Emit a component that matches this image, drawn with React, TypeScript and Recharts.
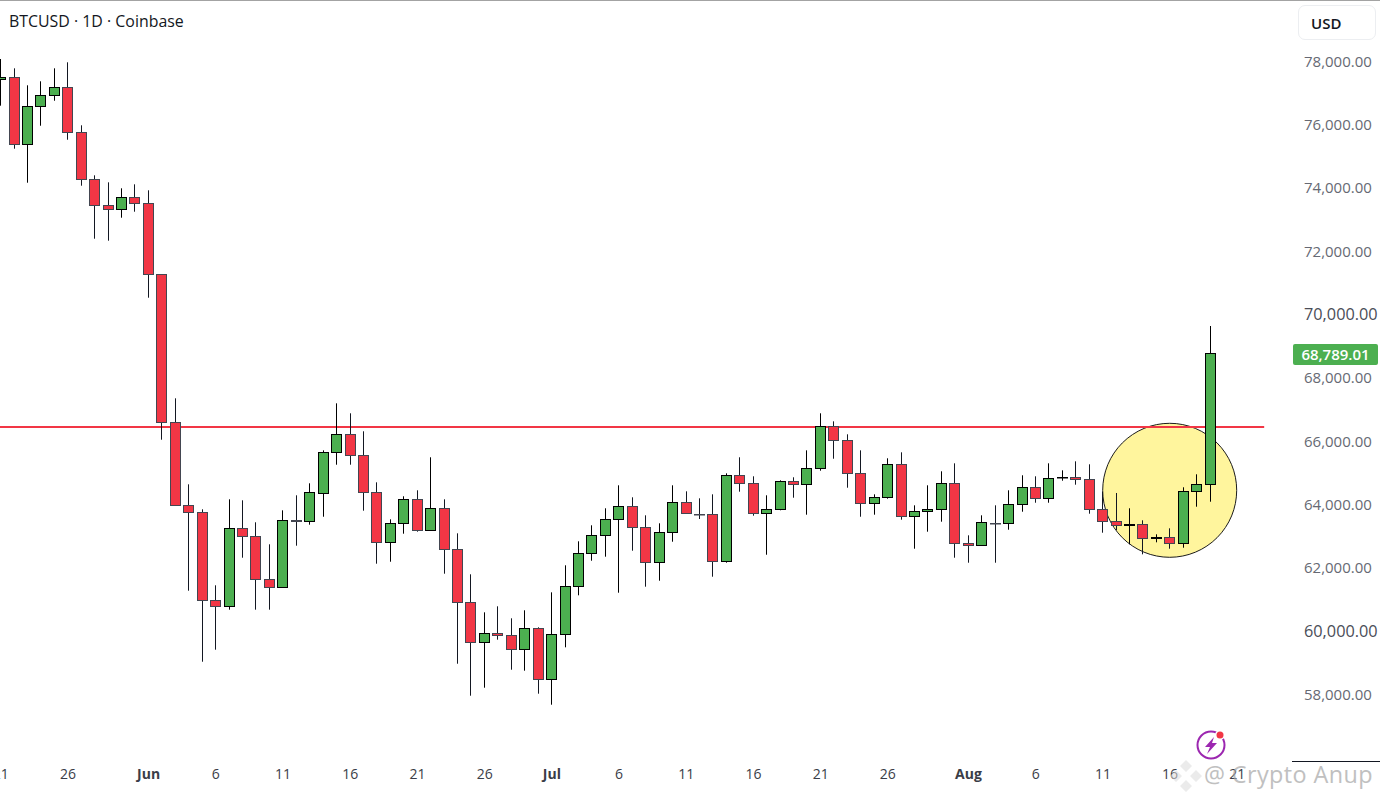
import { ComposedChart, Bar, XAxis, YAxis, ReferenceLine, ReferenceDot } from "recharts"

const opens = [
  77438, 77501, 75386, 76586, 76933, 77186, 75765, 74281, 73460, 73334, 73713, 73523, 71282,
  66609, 63989, 63768, 60990, 60801, 63263, 63011, 61653, 61401, 63516, 63484, 64368, 65662,
  66231, 65568, 64400, 62820, 63421, 64179, 63200, 63895, 62600, 60927, 59664, 59948, 59885,
  59443, 60107, 58496, 59917, 61432, 62474, 63042, 63547, 63958, 63295, 62190, 63137, 64084,
  63715, 63705, 62221, 64937, 64684, 63737, 63863, 64747, 64652, 65157, 66483, 66041, 64999,
  64053, 64242, 65284, 63642, 63800, 63863, 64684, 62790, 62726, 63431, 63421, 64021, 64558,
  64210, 64870, 64873, 64810, 63863, 63484, 63380, 63389, 62960, 62979, 62790, 64431, 64652,
]
const closes = [
  77501, 75386, 76586, 76933, 77186, 75765, 74281, 73460, 73334, 73713, 73523, 71282, 66609,
  63989, 63768, 60990, 60801, 63263, 63011, 61653, 61401, 63516, 63506, 64400, 65662, 66231,
  65568, 64400, 62820, 63421, 64179, 63200, 63895, 62600, 60927, 59664, 59948, 59885, 59443,
  60107, 58496, 59917, 61432, 62474, 63042, 63547, 63958, 63295, 62190, 63137, 64084, 63737,
  63705, 62221, 64937, 64684, 63737, 63863, 64747, 64652, 65157, 66483, 66041, 64999, 64053,
  64242, 65284, 63642, 63800, 63863, 64684, 62790, 62726, 63453, 63421, 64021, 64558, 64210,
  64842, 64873, 64810, 63863, 63484, 63358, 63389, 62947, 62973, 62790, 64431, 64652, 68789,
]
const highs = [
  78079, 77785, 77249, 77375, 77785, 77975, 75986, 74407, 74186, 73997, 74123, 73934, 71282,
  67367, 64652, 63863, 61464, 64179, 64147, 63453, 62758, 63831, 64305, 64684, 65725, 67209,
  66894, 66326, 64715, 63547, 64274, 64463, 65505, 64179, 63105, 61811, 60611, 60801, 60422,
  60675, 60138, 61242, 62095, 62853, 63358, 63895, 64621, 64242, 63673, 63421, 64621, 64431,
  64210, 64336, 64999, 65505, 64905, 64305, 64778, 64874, 65725, 66894, 66641, 66231, 65725,
  64336, 65473, 65662, 63989, 64621, 65063, 65315, 63042, 63673, 63989, 64463, 64937, 64905,
  65315, 65094, 65378, 65284, 64419, 64378, 63895, 63516, 63074, 63263, 64558, 64968, 69650,
]
const lows = [
  76605, 75247, 74174, 75973, 76762, 75531, 74079, 72406, 72343, 73069, 73258, 70543, 66060,
  63989, 61293, 59051, 59431, 60694, 62335, 60694, 60694, 61401, 62714, 63377, 63629, 65271,
  65271, 63819, 62146, 62208, 63093, 63156, 63200, 61830, 58988, 57978, 58231, 59747, 58799,
  58768, 58042, 57694, 59506, 61148, 62240, 62367, 61230, 62556, 61420, 61609, 62840, 63737,
  63557, 61735, 62177, 64419, 63661, 62429, 63832, 64229, 63693, 65082, 65460, 64545, 63629,
  63693, 64198, 63535, 62619, 63156, 63472, 62335, 62177, 62726, 62177, 63219, 63787, 64071,
  64071, 64766, 64640, 63724, 63124, 63210, 62758, 62442, 62821, 62619, 62650, 63945, 64103,
]

const dayTicks = [0, 5, 11, 16, 21, 26, 31, 36, 41, 46, 51, 56, 61, 66, 72, 77, 82, 87, 92]
const dayLabels = ["21", "26", "Jun", "6", "11", "16", "21", "26", "Jul", "6", "11", "16", "21", "26", "Aug", "6", "11", "16", "21"]
const priceTicks = [58000, 60000, 62000, 64000, 66000, 68000, 70000, 72000, 74000, 76000, 78000]
const resistance = 66460
const lastPrice = "68,789.01"

const candles = opens.map((open, i) => ({
  index: i,
  open,
  close: closes[i],
  high: highs[i],
  low: lows[i],
  range: [lows[i], highs[i]],
}))

function Candle(props: any) {
  const { x, y, width, height, payload } = props
  const top = Math.min(y, y + height)
  const span = Math.abs(height)
  const scale = span / (payload.high - payload.low)
  const toY = (p: number) => top + (payload.high - p) * scale
  const up = payload.close >= payload.open
  const cx = Math.round(x + width / 2) - 0.5
  const y1 = Math.round(toY(Math.max(payload.open, payload.close))) + 0.5
  const y2 = Math.round(toY(Math.min(payload.open, payload.close))) + 0.5
  const edge = up ? "#000000" : "#434651"
  return (
    <g>
      <line x1={cx} x2={cx} y1={top} y2={top + span} stroke={up ? "#000000" : "#131722"} strokeWidth={1} />
      <rect x={cx - 5} y={y1} width={10} height={Math.max(y2 - y1, 0.5)} fill={up ? "#4caf50" : "#f23645"} stroke={edge} strokeWidth={1} />
    </g>
  )
}

function PriceTick(props: any) {
  const { x, y, payload } = props
  const big = payload.value === 70000 || payload.value === 60000
  return (
    <text x={x} y={y + 5} fontSize={big ? 16.3 : 15} fill={big ? "#4a4d57" : "#666973"} fontFamily="'Open Sans', sans-serif">
      {payload.value.toLocaleString("en-US", { minimumFractionDigits: 2 })}
    </text>
  )
}

function DayTick(props: any) {
  const { x, y, payload } = props
  const label = dayLabels[dayTicks.indexOf(payload.value)]
  const month = isNaN(Number(label))
  return (
    <text x={x} y={y + 10} textAnchor="middle" fontSize={14} fontWeight={month ? 700 : 400} fill="#3a3d47" fontFamily="'Open Sans', sans-serif">
      {label}
    </text>
  )
}

export default function App() {
  return (
    <div style={{ position: "absolute", left: 0, top: 0, width: 1380, height: 799, overflow: "hidden", background: "#fff", fontFamily: "'Open Sans', sans-serif" }}>
      <ComposedChart width={1380} height={799} data={candles} margin={{ top: 0, right: 0, bottom: 0, left: 0 }}>
        <XAxis
          type="number"
          dataKey="index"
          domain={[-0.06, 96.07]}
          ticks={dayTicks}
          interval={0}
          axisLine={false}
          tickLine={false}
          height={38}
          tick={<DayTick />}
        />
        <YAxis
          orientation="right"
          width={88}
          domain={[55917, 79942]}
          ticks={priceTicks}
          interval={0}
          axisLine={false}
          tickLine={false}
          tickMargin={6}
          tick={<PriceTick />}
        />
        <ReferenceDot x={86.97} y={64463} r={67} fill="#fff59d" stroke="#1c1c1c" strokeWidth={1} zIndex={10} />
        <ReferenceLine
          segment={[{ x: -0.06, y: resistance }, { x: 94, y: resistance }]}
          stroke="#f23645"
          strokeWidth={2}
          zIndex={20}
        />
        <Bar dataKey="range" barSize={10} shape={<Candle />} isAnimationActive={false} zIndex={30} />
      </ComposedChart>

      <div style={{ position: "absolute", left: 0, top: 0, width: 1380, height: 1, background: "#a3a3a3" }} />
      <div style={{ position: "absolute", left: 9, top: 11, fontSize: 15.9, lineHeight: "20px", color: "#131722" }}>
        BTCUSD · 1D · Coinbase
      </div>
      <div style={{ position: "absolute", left: 1298, top: 5, width: 78, height: 35, boxSizing: "border-box", border: "1px solid #eceef1", borderRadius: 7, fontSize: 15, fontWeight: 600, lineHeight: "35px", paddingLeft: 12, color: "#131722" }}>
        USD
      </div>
      <div style={{ position: "absolute", left: 1293, top: 344, width: 85, height: 21, borderRadius: 2, background: "#4caf50", color: "#fff", fontSize: 15, fontWeight: 600, lineHeight: "21px", textAlign: "center" }}>
        {lastPrice}
      </div>
      <div style={{ position: "absolute", left: 1292, top: 761, width: 88, height: 1, background: "#131722" }} />

      <svg style={{ position: "absolute", left: 1190, top: 724 }} width={44} height={44}>
        <circle cx={21} cy={21} r={13.5} fill="none" stroke="#9c27b0" strokeWidth={2} />
        <path d="M24 13 L15 23 L20 23 L17 30 L27 19 L22 19 Z" fill="#9c27b0" />
        <circle cx={30} cy={11} r={5} fill="#fff" />
        <circle cx={30} cy={11} r={3.5} fill="#f23645" />
      </svg>
      <svg style={{ position: "absolute", left: 1170, top: 758 }} width={36} height={38} opacity={0.55}>
        <path d="M16 2 L22 8 L16 14 L10 8 Z M6 12 L12 18 L6 24 L0 18 Z M26 12 L32 18 L26 24 L20 18 Z M16 22 L22 28 L16 34 L10 28 Z" fill="#dcdcdc" />
      </svg>
      <div style={{ position: "absolute", left: 1204, top: 757, fontSize: 23.4, lineHeight: "34px", color: "#a6a6a6", opacity: 0.7, whiteSpace: "nowrap", letterSpacing: 0.4 }}>
        @ Crypto Anup
      </div>
    </div>
  )
}
